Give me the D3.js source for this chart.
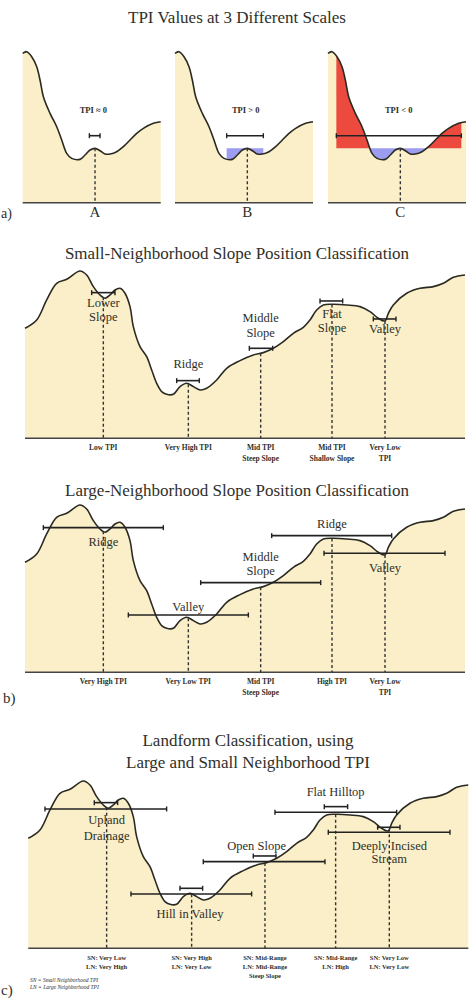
<!DOCTYPE html>
<html><head><meta charset="utf-8">
<script src="https://cdn.jsdelivr.net/npm/d3@7"></script>
<style>
body{margin:0;background:#fff;}
text{font-family:"Liberation Serif","DejaVu Serif",serif;fill:#2f2f2a;}
</style></head>
<body>
<script>
// small profile used in part a (units: x along panel, elevation)
const aProfileX = [0,12,27,42,52,62,82,102,117,132,147,172,187,202,217,232,247,262,282,302,322,342,362,392,414];
const aProfileE = [448,453,438,408,368,318,268,228,188,148,133,130,143,158,163,156,146,146,153,168,188,208,223,238,243];
const aRefLevel = 163;
const aScaleLabels = ["A", "B", "C"];
const aTpiLabels = ["TPI \u2248 0", "TPI > 0", "TPI < 0"];
const aWindows = [[200,232],[155,265],[25,400]];
const aPointX = 217;

// main terrain profile (parts b and c)
const profileX = [0,35,65,95,125,165,185,205,225,240,255,270,285,300,315,325,345,365,380,395,410,425,445,465,485,505,525,545,575,605,645,685,715,745,775,805,835,855,875,895,925,965,1005,1035,1060,1080,1090,1105,1145,1185,1225,1255,1285,1320];
const profileE = [330,355,415,465,477,502,490,455,430,420,430,445,450,435,395,335,275,245,205,165,140,132,132,155,165,155,145,150,175,210,233,250,257,270,290,315,333,355,385,400,402,400,395,380,360,352,375,400,435,450,455,465,483,490];

// small-neighborhood classification
const smallLabels = [["Lower","Slope"],["Ridge"],["Middle","Slope"],["Flat","Slope"],["Valley"]];
const smallTpi = [["Low TPI"],["Very High TPI"],["Mid TPI","Steep Slope"],["Mid TPI","Shallow Slope"],["Very Low","TPI"]];
const smallPointX = [235,490,707,921,1080];
const smallBarE = [437,173,270,412,358];
const smallBarX = [[200,270],[455,523],[673,743],[885,953],[1045,1113]];

// large-neighborhood classification
const largeLabels = [["Ridge"],["Valley"],["Middle","Slope"],["Ridge"],["Valley"]];
const largeTpi = [["Very High TPI"],["Very Low TPI"],["Mid TPI","Steep Slope"],["High TPI"],["Very Low","TPI"]];
const largeBarE = [434,172,269,410,357];
const largeBarX = [[55,415],[310,670],[527,887],[740,1100],[897,1260]];

// landform classification
const landLabels = [["Upland","Drainage"],["Hill in Valley"],["Open Slope"],["Flat Hilltop"],["Deeply Incised","Stream"]];
const landTpi = [["SN: Very Low","LN: Very High"],["SN: Very High","LN: Very Low"],["SN: Mid-Range","LN: Mid-Range","Steep Slope"],["SN: Mid-Range","LN: High"],["SN: Very Low","LN: Very Low"]];
const landPointX = [235,490,710,922,1083];
const landLargeE = [418,163,260,408,348];
const landLargeX = [[50,415],[308,670],[525,890],[740,1105],[900,1265]];
const landSmallE = [437,180,277,425,363];
const landSmallX = [[198,268],[455,523],[675,743],[888,958],[1048,1115]];

const W = 474, H = 1001;
const FILL = "#faefc8", INK = "#2b2a22";
const svg = d3.select("body").append("svg").attr("width", W).attr("height", H);

const interp = (xs, es) => x => {
  for (let i = 1; i < xs.length; i++) {
    if (x <= xs[i]) { const t = (x - xs[i-1]) / (xs[i] - xs[i-1]); return es[i-1] + t * (es[i] - es[i-1]); }
  }
  return es[es.length - 1];
};

function terrain(g, xs, es, x, y) {
  const pts = xs.map((d, i) => [d, es[i]]);
  g.append("path").datum(pts)
    .attr("d", d3.area().x(d => x(d[0])).y0(y(0)).y1(d => y(d[1])).curve(d3.curveCatmullRom))
    .attr("fill", FILL);
  g.append("path").datum(pts)
    .attr("d", d3.line().x(d => x(d[0])).y(d => y(d[1])).curve(d3.curveCatmullRom))
    .attr("fill", "none").attr("stroke", INK).attr("stroke-width", 1.6);
  g.append("line").attr("x1", x(xs[0])).attr("x2", x(xs[xs.length-1]))
    .attr("y1", y(0)).attr("y2", y(0)).attr("stroke", "#444").attr("stroke-width", 1.6);
}

function bar(g, x0, x1, yy, cap) {
  g.append("line").attr("x1", x0).attr("x2", x1).attr("y1", yy).attr("y2", yy)
    .attr("stroke", "#222").attr("stroke-width", 1.6);
  [x0, x1].forEach(xx => g.append("line").attr("x1", xx).attr("x2", xx)
    .attr("y1", yy - cap).attr("y2", yy + cap).attr("stroke", "#222").attr("stroke-width", 1.4));
}

function dashed(g, xx, y0, y1) {
  g.append("line").attr("x1", xx).attr("x2", xx).attr("y1", y0).attr("y2", y1)
    .attr("stroke", "#333").attr("stroke-width", 1.4).attr("stroke-dasharray", "3,2.5");
}

function lines(g, arr, xx, yy, size, lh, extra) {
  arr.forEach((t, i) => {
    const tx = g.append("text").attr("x", xx).attr("y", yy + i * lh)
      .attr("text-anchor", "middle").attr("font-size", size).text(t);
    if (extra) extra(tx);
  });
}

// ---- part a ----
svg.append("text").attr("x", 237).attr("y", 23).attr("text-anchor", "middle")
  .attr("font-size", 17).text("TPI Values at 3 Different Scales");
const aOffsets = [22.7, 175, 328];
const aFn = interp(aProfileX, aProfileE);
aOffsets.forEach((ox, k) => {
  const g = svg.append("g");
  const x = d3.scaleLinear().domain([0, 414]).range([ox, ox + 138]);
  const y = d3.scaleLinear().domain([0, 600]).range([202.7, 2.7]);
  terrain(g, aProfileX, aProfileE, x, y);
  if (k > 0) {
    const [w0, w1] = aWindows[k];
    const samp = d3.range(w0, w1 + 0.5, 1).map(v => [v, aFn(v)]);
    g.insert("path", "path:nth-child(2)").datum(samp)
      .attr("d", d3.area().x(d => x(d[0])).y0(y(aRefLevel)).y1(d => y(Math.min(d[1], aRefLevel))))
      .attr("fill", "#9c9cf0");
    if (k === 2) {
      g.insert("path", "path:nth-child(2)").datum(samp)
        .attr("d", d3.area().x(d => x(d[0])).y0(y(aRefLevel)).y1(d => y(Math.max(d[1], aRefLevel))))
        .attr("fill", "#ec4a3e");
    }
  }
  dashed(g, x(aPointX), y(aFn(aPointX)), y(0));
  bar(g, x(aWindows[k][0]), x(aWindows[k][1]), y(201), 2.5);
  g.append("text").attr("x", x(aPointX - 5)).attr("y", y(270)).attr("text-anchor", "middle")
    .attr("font-size", 8.5).attr("font-weight", "bold").text(aTpiLabels[k]);
  g.append("text").attr("x", x(aPointX)).attr("y", y(-43)).attr("text-anchor", "middle")
    .attr("font-size", 15).text(aScaleLabels[k]);
});
svg.append("text").attr("x", 1).attr("y", 218).attr("font-size", 14).text("a)");

const pFn = interp(profileX, profileE);

// ---- part b, small neighborhood ----
{
  svg.append("text").attr("x", 237).attr("y", 259).attr("text-anchor", "middle")
    .attr("font-size", 17).text("Small-Neighborhood Slope Position Classification");
  const g = svg.append("g");
  const x = d3.scaleLinear().domain([0, 1320]).range([25, 465]);
  const y = d3.scaleLinear().domain([0, 600]).range([438.3, 238.3]);
  terrain(g, profileX, profileE, x, y);
  const labE = [[395,352],[210],[350,305],[362,320],[315]];
  smallPointX.forEach((px, i) => {
    dashed(g, x(px), y(pFn(px)), y(0));
    bar(g, x(smallBarX[i][0]), x(smallBarX[i][1]), y(smallBarE[i]), 2.5);
    smallLabels[i].forEach((t, j) => g.append("text").attr("x", x(px)).attr("y", y(labE[i][j]))
      .attr("text-anchor", "middle").attr("font-size", 12.5).text(t));
    lines(g, smallTpi[i], x(px), 450, 7.5, 11, t => t.attr("font-weight", "bold"));
  });
}

// ---- part b, large neighborhood ----
{
  svg.append("text").attr("x", 237).attr("y", 496).attr("text-anchor", "middle")
    .attr("font-size", 17).text("Large-Neighborhood Slope Position Classification");
  const g = svg.append("g");
  const x = d3.scaleLinear().domain([0, 1320]).range([25, 465]);
  const y = d3.scaleLinear().domain([0, 600]).range([672.3, 472.3]);
  terrain(g, profileX, profileE, x, y);
  const labE = [[380],[185],[335,292],[433],[300]];
  smallPointX.forEach((px, i) => {
    dashed(g, x(px), y(pFn(px)), y(0));
    bar(g, x(largeBarX[i][0]), x(largeBarX[i][1]), y(largeBarE[i]), 2.5);
    largeLabels[i].forEach((t, j) => g.append("text").attr("x", x(px)).attr("y", y(labE[i][j]))
      .attr("text-anchor", "middle").attr("font-size", 12.5).text(t));
    lines(g, largeTpi[i], x(px), 684, 7.5, 11, t => t.attr("font-weight", "bold"));
  });
  svg.append("text").attr("x", 3).attr("y", 703).attr("font-size", 15).text("b)");
}

// ---- part c, landform ----
{
  svg.append("text").attr("x", 248).attr("y", 746).attr("text-anchor", "middle")
    .attr("font-size", 17).text("Landform Classification, using");
  svg.append("text").attr("x", 248).attr("y", 768).attr("text-anchor", "middle")
    .attr("font-size", 17).text("Large and Small Neighborhood TPI");
  const g = svg.append("g");
  const x = d3.scaleLinear().domain([0, 1320]).range([28.3, 468.3]);
  const y = d3.scaleLinear().domain([0, 600]).range([948.3, 748.3]);
  terrain(g, profileX, profileE, x, y);
  const labE = [[372,325],[90],[296],[458],[296,256]];
  const labDx = [0, -5, -25, 0, 0];
  landPointX.forEach((px, i) => {
    dashed(g, x(px), y(pFn(px)), y(0));
    bar(g, x(landLargeX[i][0]), x(landLargeX[i][1]), y(landLargeE[i]), 2.5);
    bar(g, x(landSmallX[i][0]), x(landSmallX[i][1]), y(landSmallE[i]), 2.5);
    landLabels[i].forEach((t, j) => g.append("text").attr("x", x(px + labDx[i])).attr("y", y(labE[i][j]))
      .attr("text-anchor", "middle").attr("font-size", 12.5).text(t));
    lines(g, landTpi[i], x(px), 960, 6.5, 9, t => t.attr("font-weight", "bold"));
  });
  svg.append("text").attr("x", 30).attr("y", 982).attr("font-size", 5.5).attr("font-style", "italic").text("SN = Small Neighborhood TPI");
  svg.append("text").attr("x", 30).attr("y", 989).attr("font-size", 5.5).attr("font-style", "italic").text("LN = Large Neighborhood TPI");
  svg.append("text").attr("x", 1).attr("y", 995).attr("font-size", 15).text("c)");
}
</script>
</body></html>
